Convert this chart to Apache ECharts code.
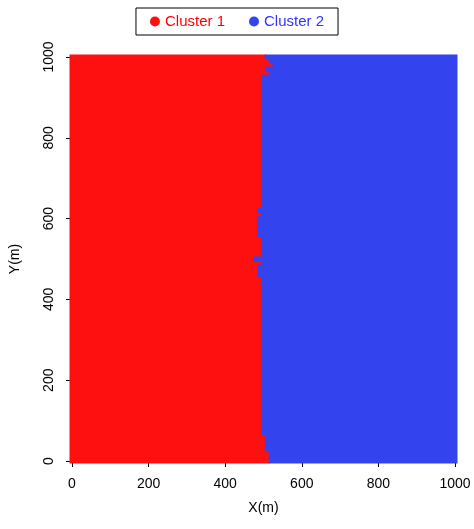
<!DOCTYPE html><html><head><meta charset="utf-8"><script src="https://cdn.jsdelivr.net/npm/echarts@6/dist/echarts.min.js"></script></head><body style="margin:0"><div id="c" style="width:474px;height:529px"></div><script>
const xs=[];for(let x=0;x<=1000;x+=10)xs.push(x);
const ys=xs.slice();
// boundary x per y row (y=0..1000 step 10): points with x <= boundary belong to Cluster 1
const boundary=[510,510,510,500,500,500,500,490,490,490,490,490,490,490,490,490,490,490,490,490,
490,490,490,490,490,490,490,490,490,490,490,490,490,490,490,490,490,490,490,490,
490,490,490,490,490,490,480,480,480,490,470,490,490,490,490,490,480,480,480,480,
480,490,480,490,490,490,490,490,490,490,490,490,490,490,490,490,490,490,490,490,
490,490,490,490,490,490,490,490,490,490,490,490,490,490,490,490,510,500,520,510,500];
const c1=[],c2=[];
ys.forEach((y,i)=>xs.forEach(x=>(x<=boundary[i]?c1:c2).push([x,y])));
const ax={axisLine:{show:true,lineStyle:{color:'#000'}},axisTick:{length:6,lineStyle:{color:'#000'}},axisLabel:{color:'#000',fontSize:14,fontFamily:'Liberation Sans',formatter:v=>String(v)},splitLine:{show:false},min:0,max:1000,interval:200,nameTextStyle:{color:'#000',fontSize:14,fontFamily:'Liberation Sans'}};
const ch=echarts.init(document.getElementById('c'));
ch.setOption({animation:false,
legend:{top:8,left:'center',borderColor:'#000',borderWidth:1,padding:[6,14],itemGap:24,icon:'circle',itemWidth:10,itemHeight:12,textStyle:{fontSize:15,fontFamily:'Liberation Sans'},data:[{name:'Cluster 1',textStyle:{color:'#ff0000'}},{name:'Cluster 2',textStyle:{color:'#3333ff'}}]},
grid:{left:70,right:19,top:57,bottom:68},
xAxis:Object.assign({},ax,{type:'value',offset:8,name:'X(m)',nameLocation:'middle',nameGap:32}),
yAxis:Object.assign({},ax,{type:'value',offset:8,name:'Y(m)',nameLocation:'middle',nameGap:42,axisLabel:Object.assign({},ax.axisLabel,{rotate:90})}),
series:[{name:'Cluster 1',type:'scatter',symbol:'rect',symbolSize:5,itemStyle:{color:'#ff1010',opacity:1},data:c1,large:true},
{name:'Cluster 2',type:'scatter',symbol:'rect',symbolSize:5,itemStyle:{color:'#3344ee',opacity:1},data:c2,large:true}]});
</script></body></html>
